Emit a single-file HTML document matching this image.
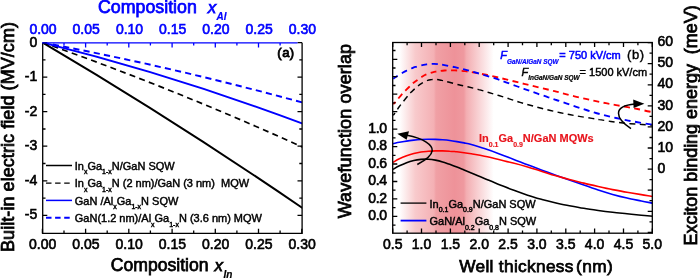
<!DOCTYPE html>
<html><head><meta charset="utf-8"><title>Figure</title>
<style>
html,body{margin:0;padding:0;background:#fff;}
body{width:700px;height:278px;overflow:hidden;font-family:"Liberation Sans",Arial,sans-serif;}
svg{display:block;}
svg text{white-space:pre;}
.tl{stroke-width:0.62px;}
.ti{stroke-width:0.75px;}
.lg{stroke-width:0.45px;}
.lgb{stroke-width:0.55px;}
.ab{stroke-width:0.4px;}
.lgr{stroke-width:0.15px;}
</style></head><body>
<svg width="700" height="278" viewBox="0 0 700 278" font-family="Liberation Sans, Arial, sans-serif">
<defs><linearGradient id="pk" x1="0" x2="1" y1="0" y2="0"><stop offset="0" stop-color="#ffffff"/><stop offset="0.065" stop-color="#ffffff"/><stop offset="0.22" stop-color="#f8cacc"/><stop offset="0.40" stop-color="#f4b0b4"/><stop offset="0.42" stop-color="#f0a0a5"/><stop offset="0.60" stop-color="#ee9299"/><stop offset="0.69" stop-color="#ef999f"/><stop offset="0.715" stop-color="#f3adb1"/><stop offset="0.98" stop-color="#ffffff"/></linearGradient><clipPath id="ca"><rect x="42.7" y="42.8" width="259.4" height="190.6"/></clipPath><clipPath id="cb"><rect x="392.7" y="42.5" width="259.6" height="190.7"/></clipPath></defs>
<rect width="700" height="278" fill="#fff"/>
<g clip-path="url(#ca)" fill="none">
<path d="M42.70,42.60Q174.56,88.97 306.42,148.83" stroke="#000" stroke-width="1.7" stroke-dasharray="6 4.3"/>
<path d="M42.70,42.60Q174.56,67.36 306.42,103.63" stroke="#0000ff" stroke-width="1.9" stroke-dasharray="6.2 4.2"/>
<path d="M42.70,42.60Q174.56,75.37 306.42,125.08" stroke="#0000ff" stroke-width="1.9"/>
<path d="M42.70,42.60Q174.56,120.32 306.42,210.70" stroke="#000" stroke-width="2"/>
</g>
<g stroke="#000" stroke-width="1.3" fill="none">
<path d="M42.7,42.8V233.4H302.1V42.8"/>
<path d="M42.7,42.6h4.6M302.1,42.6h-4.6M42.7,59.9h2.8M302.1,59.9h-2.8M42.7,77.2h4.6M302.1,77.2h-4.6M42.7,94.4h2.8M302.1,94.4h-2.8M42.7,111.7h4.6M302.1,111.7h-4.6M42.7,129.0h2.8M302.1,129.0h-2.8M42.7,146.2h4.6M302.1,146.2h-4.6M42.7,163.5h2.8M302.1,163.5h-2.8M42.7,180.8h4.6M302.1,180.8h-4.6M42.7,198.1h2.8M302.1,198.1h-2.8M42.7,215.3h4.6M302.1,215.3h-4.6M42.4,233.4v-4.6M64.0,233.4v-2.8M85.6,233.4v-4.6M107.2,233.4v-2.8M128.8,233.4v-4.6M150.4,233.4v-2.8M172.1,233.4v-4.6M193.7,233.4v-2.8M215.3,233.4v-4.6M236.9,233.4v-2.8M258.5,233.4v-4.6M280.1,233.4v-2.8M301.8,233.4v-4.6"/>
</g>
<path d="M42.1,42.8H297.5M64.0,42.8v2.8M85.6,42.8v4.6M107.2,42.8v2.8M128.8,42.8v4.6M150.4,42.8v2.8M172.1,42.8v4.6M193.7,42.8v2.8M215.3,42.8v4.6M236.9,42.8v2.8M258.5,42.8v4.6M280.1,42.8v2.8" stroke="#0000ff" stroke-width="1.3" fill="none"/>
<g font-size="14" fill="#000" stroke="#000" class="tl">
<text x="42.7" y="248.9" text-anchor="middle">0.00</text>
<text x="85.9" y="248.9" text-anchor="middle">0.05</text>
<text x="129.2" y="248.9" text-anchor="middle">0.10</text>
<text x="172.4" y="248.9" text-anchor="middle">0.15</text>
<text x="215.6" y="248.9" text-anchor="middle">0.20</text>
<text x="258.9" y="248.9" text-anchor="middle">0.25</text>
<text x="302.1" y="248.9" text-anchor="middle">0.30</text>
<text x="37.2" y="46.7" text-anchor="end">0</text>
<text x="37.2" y="81.2" text-anchor="end">-1</text>
<text x="37.2" y="115.8" text-anchor="end">-2</text>
<text x="37.2" y="150.3" text-anchor="end">-3</text>
<text x="37.2" y="184.9" text-anchor="end">-4</text>
<text x="37.2" y="219.4" text-anchor="end">-5</text>
</g>
<g font-size="14" fill="#0000ff" stroke="#0000ff" class="tl">
<text x="43.0" y="33.8" text-anchor="middle">0.00</text>
<text x="86.2" y="33.8" text-anchor="middle">0.05</text>
<text x="129.5" y="33.8" text-anchor="middle">0.10</text>
<text x="172.7" y="33.8" text-anchor="middle">0.15</text>
<text x="215.9" y="33.8" text-anchor="middle">0.20</text>
<text x="259.2" y="33.8" text-anchor="middle">0.25</text>
<text x="302.4" y="33.8" text-anchor="middle">0.30</text>
</g>
<text class="ti" font-size="17.8" fill="#0000ff" stroke="#0000ff" x="98" y="12.8">Composition</text>
<text class="ti" font-size="17" fill="#0000ff" stroke="#0000ff" font-style="italic" x="207.8" y="12.7">x<tspan font-size="10" font-weight="bold" stroke-width="0.2" dy="7.5" dx="0.3">Al</tspan></text>
<text class="ti" font-size="17.6" fill="#000" stroke="#000" x="110.8" y="270.8">Composition</text>
<text class="ti" font-size="17" fill="#000" stroke="#000" font-style="italic" x="214.6" y="270.8">x<tspan font-size="10" font-weight="bold" stroke-width="0.2" dy="7.5" dx="0.3">In</tspan></text>
<text class="ti" font-size="18" fill="#000" stroke="#000" transform="translate(13.6,252) rotate(-90)" textLength="230">Built-in electric field (MV/cm)</text>
<text class="ab" style="stroke-width:0.8px" font-size="13" fill="#000" stroke="#000" x="277.3" y="57.4" textLength="16.9">(a)</text>
<line x1="46" y1="165.5" x2="72" y2="165.5" stroke="#000" stroke-width="1.5"/>
<line x1="46" y1="183.2" x2="72" y2="183.2" stroke="#000" stroke-width="1.3" stroke-dasharray="5.5 3.6"/>
<line x1="46" y1="200.4" x2="72" y2="200.4" stroke="#0000ff" stroke-width="1.5"/>
<line x1="46" y1="217.8" x2="72" y2="217.8" stroke="#0000ff" stroke-width="2.0" stroke-dasharray="5.5 3.6"/>
<g font-size="11" fill="#000" stroke="#000" class="lg">
<text transform="translate(74.8,169.8) scale(1,0.94)">In<tspan font-size="7" dy="4.9">x</tspan><tspan dy="-4.9">Ga</tspan><tspan font-size="7" dy="4.9">1-x</tspan><tspan dy="-4.9">N/GaN SQW</tspan></text>
<text transform="translate(74.8,187.2) scale(1,0.94)">In<tspan font-size="7" dy="4.9">x</tspan><tspan dy="-4.9">Ga</tspan><tspan font-size="7" dy="4.9">1-x</tspan><tspan dy="-4.9">N (2 nm)/GaN (3 nm)  MQW</tspan></text>
<text transform="translate(74.8,204.7) scale(1,0.94)">GaN /Al<tspan font-size="7" dy="4.9">x</tspan><tspan dy="-4.9">Ga</tspan><tspan font-size="7" dy="4.9">1-x</tspan><tspan dy="-4.9">N SQW</tspan></text>
<text transform="translate(74.8,222.1) scale(1,0.94)">GaN(1.2 nm)/Al<tspan font-size="7" dy="4.9">x</tspan><tspan dy="-4.9">Ga</tspan><tspan font-size="7" dy="4.9">1-x</tspan><tspan dy="-4.9">N (3.6 nm) MQW</tspan></text>
</g>
<rect x="392.7" y="42.5" width="103.0" height="190.7" fill="url(#pk)"/>
<g clip-path="url(#cb)" fill="none" stroke-linejoin="round">
<path d="M393.2,115.3C393.7,114.7 395.0,113.1 396.0,111.7C397.0,110.3 398.1,108.3 399.2,106.8C400.3,105.3 401.0,104.4 402.5,102.5C404.0,100.6 406.7,97.2 408.3,95.3C409.9,93.4 410.7,92.7 412.2,91.2C413.7,89.7 415.9,87.8 417.4,86.5C418.9,85.2 419.6,84.6 421.3,83.6C423.0,82.6 425.9,81.1 427.6,80.4C429.3,79.7 430.0,79.8 431.5,79.6C433.0,79.4 434.9,79.4 436.6,79.5C438.3,79.6 439.9,80.0 441.8,80.4C443.8,80.8 445.5,81.3 448.3,82.0C451.1,82.7 455.5,84.0 458.7,84.8C461.9,85.6 464.4,86.0 467.7,86.8C471.0,87.6 475.1,88.6 478.6,89.6C482.1,90.5 485.3,91.5 488.7,92.5C492.1,93.5 495.2,94.4 498.8,95.5C502.4,96.6 506.4,97.9 510.0,99.1C513.5,100.2 516.7,101.4 520.1,102.4C523.5,103.4 526.8,104.4 530.2,105.3C533.6,106.2 536.9,107.1 540.3,108.0C543.7,108.9 547.0,109.7 550.4,110.5C553.8,111.3 557.0,112.0 560.4,112.7C563.8,113.4 567.1,114.2 570.5,114.8C573.9,115.4 577.0,116.0 580.6,116.6C584.2,117.2 588.9,117.9 592.0,118.4C595.1,118.9 596.5,119.1 599.3,119.6C602.1,120.0 605.5,120.6 608.8,121.1C612.1,121.6 615.3,122.1 618.9,122.5C622.5,122.9 626.5,123.4 630.4,123.7C634.2,124.0 638.2,124.3 642.0,124.5C645.8,124.7 651.2,125.0 653.0,125.1" stroke="#000" stroke-width="1.45" stroke-dasharray="6 4.4" stroke-dashoffset="3.1"/>
<path d="M393.2,104.2C393.8,103.6 395.3,102.2 396.7,100.5C398.1,98.8 400.2,96.1 401.8,94.3C403.4,92.5 404.7,91.4 406.4,89.7C408.1,88.0 410.6,85.4 412.2,83.9C413.8,82.5 414.3,82.2 416.0,81.0C417.7,79.8 420.7,77.6 422.4,76.5C424.1,75.4 424.6,75.1 426.3,74.4C428.0,73.7 431.0,72.8 432.7,72.3C434.4,71.8 434.7,71.8 436.6,71.5C438.6,71.2 441.4,70.7 444.4,70.5C447.4,70.3 451.4,70.3 454.8,70.4C458.2,70.5 461.9,70.8 465.1,71.2C468.4,71.6 471.1,72.0 474.3,72.6C477.5,73.1 480.8,73.8 484.4,74.5C488.0,75.2 492.3,76.2 495.9,77.0C499.5,77.8 502.4,78.5 506.0,79.4C509.6,80.3 513.9,81.3 517.5,82.2C521.1,83.1 524.2,83.9 527.6,84.7C531.0,85.5 534.2,86.3 537.6,87.1C541.0,87.9 544.6,88.8 547.7,89.5C550.8,90.2 553.5,90.9 556.3,91.6C559.1,92.3 561.7,93.0 564.7,93.8C567.7,94.6 571.0,95.4 574.5,96.3C578.0,97.2 582.2,98.1 585.8,98.9C589.4,99.7 592.5,100.5 595.9,101.2C599.3,101.9 602.6,102.6 606.0,103.2C609.4,103.8 612.4,104.4 616.0,105.1C619.6,105.8 624.0,106.4 627.6,107.1C631.2,107.8 634.0,108.3 637.6,109.0C641.2,109.7 646.5,111.0 649.1,111.5C651.7,112.0 652.4,112.2 653.0,112.3" stroke="#ff0000" stroke-width="1.85" stroke-dasharray="6 4.4" stroke-dashoffset="2.6"/>
<path d="M393.2,78.8C393.6,78.5 394.2,78.0 395.8,77.0C397.4,76.0 401.2,73.6 403.0,72.5C404.8,71.4 405.1,71.3 406.8,70.5C408.5,69.7 411.6,68.3 413.3,67.6C415.0,66.9 415.5,67.0 417.2,66.5C418.9,66.0 422.0,65.2 423.7,64.8C425.4,64.4 425.9,64.4 427.6,64.2C429.3,64.0 432.1,63.9 434.0,63.9C435.9,63.9 437.5,64.1 439.2,64.3C440.9,64.5 441.8,64.6 444.4,65.1C447.0,65.6 451.4,66.4 454.8,67.2C458.2,68.0 461.9,68.9 465.1,69.7C468.4,70.5 471.1,71.3 474.3,72.2C477.5,73.1 480.8,74.0 484.4,75.1C488.0,76.2 492.3,77.5 495.9,78.7C499.5,79.9 502.4,81.0 506.0,82.3C509.6,83.6 513.9,85.2 517.5,86.5C521.1,87.8 524.2,88.9 527.6,90.1C531.0,91.3 534.2,92.5 537.6,93.7C541.0,94.9 544.6,96.0 547.7,97.1C550.8,98.1 553.2,99.0 556.3,100.0C559.4,101.0 562.9,102.3 566.2,103.4C569.5,104.5 572.9,105.7 576.3,106.8C579.6,107.9 583.0,109.0 586.3,110.0C589.6,111.0 592.6,112.1 595.9,113.0C599.2,113.9 602.6,114.8 606.0,115.6C609.4,116.4 612.6,117.2 616.0,118.0C619.4,118.8 622.7,119.5 626.1,120.2C629.5,120.9 632.4,121.3 636.2,122.0C640.0,122.7 646.3,123.7 649.1,124.1C651.9,124.5 652.4,124.5 653.0,124.6" stroke="#0000ff" stroke-width="1.85" stroke-dasharray="6.1 4.5" stroke-dashoffset="0.5"/>
<path d="M392.9,169.4C394.0,168.8 397.1,166.9 399.4,165.8C401.7,164.7 404.2,163.6 406.6,162.7C409.0,161.8 411.4,161.1 413.8,160.5C416.2,159.9 418.6,159.6 421.0,159.4C423.4,159.2 425.8,159.1 428.2,159.2C430.6,159.3 433.0,159.6 435.4,160.1C437.8,160.6 440.2,161.2 442.6,161.9C445.0,162.6 447.3,163.5 449.7,164.3C452.1,165.2 454.5,166.1 456.9,167.0C459.3,167.9 461.7,169.0 464.1,170.0C466.5,171.0 468.9,172.0 471.3,173.0C473.7,174.0 476.3,175.1 478.5,176.0C480.7,176.9 481.0,177.0 484.4,178.4C487.8,179.8 494.0,182.5 498.8,184.4C503.6,186.3 508.4,188.3 513.2,190.1C518.0,191.9 522.8,193.6 527.6,195.2C532.4,196.8 537.4,198.2 542.0,199.5C546.6,200.8 550.4,201.7 555.0,202.7C559.6,203.7 564.6,204.8 569.4,205.7C574.2,206.6 579.0,207.5 583.8,208.3C588.6,209.1 593.4,209.8 598.2,210.5C603.0,211.2 607.8,211.8 612.6,212.3C617.4,212.9 622.2,213.3 627.0,213.8C631.8,214.3 637.0,214.8 641.3,215.2C645.6,215.6 651.0,216.0 653.0,216.2" stroke="#000" stroke-width="1.6"/>
<path d="M392.9,143.7C394.0,143.5 397.1,142.7 399.4,142.3C401.7,141.9 404.2,141.5 406.6,141.1C409.0,140.7 411.4,140.4 413.8,140.1C416.2,139.8 418.6,139.6 421.0,139.5C423.4,139.4 425.8,139.3 428.2,139.3C430.6,139.3 433.0,139.3 435.4,139.4C437.8,139.5 440.2,139.6 442.6,139.8C445.0,140.0 447.3,140.2 449.7,140.5C452.1,140.8 454.5,141.2 456.9,141.6C459.3,142.0 461.7,142.4 464.1,142.9C466.5,143.4 467.9,143.6 471.3,144.5C474.7,145.4 479.8,147.1 484.4,148.6C489.0,150.1 494.0,151.9 498.8,153.7C503.6,155.5 508.4,157.3 513.2,159.2C518.0,161.0 522.8,163.0 527.6,164.8C532.4,166.6 537.4,168.5 542.0,170.2C546.6,171.9 550.4,173.2 555.0,174.9C559.6,176.6 564.6,178.4 569.4,180.1C574.2,181.8 579.0,183.4 583.8,185.1C588.6,186.8 593.4,188.5 598.2,190.1C603.0,191.7 607.8,193.1 612.6,194.4C617.4,195.7 622.2,196.9 627.0,198.0C631.8,199.1 637.0,200.1 641.3,201.0C645.6,201.9 651.0,202.8 653.0,203.2" stroke="#0000ff" stroke-width="1.6"/>
<path d="M392.9,162.4C394.0,161.8 397.1,159.9 399.4,158.8C401.7,157.7 404.2,156.7 406.6,155.8C409.0,154.9 411.4,154.1 413.8,153.5C416.2,152.9 418.6,152.4 421.0,152.0C423.4,151.6 425.8,151.5 428.2,151.3C430.6,151.1 433.0,151.0 435.4,150.9C437.8,150.8 440.2,150.9 442.6,150.9C445.0,150.9 447.3,151.0 449.7,151.2C452.1,151.3 454.5,151.6 456.9,151.8C459.3,152.1 461.7,152.4 464.1,152.7C466.5,153.0 467.9,153.2 471.3,153.8C474.7,154.4 479.8,155.2 484.4,156.2C489.0,157.1 494.0,158.3 498.8,159.5C503.6,160.7 508.4,161.8 513.2,163.1C518.0,164.3 522.8,165.6 527.6,167.0C532.4,168.4 537.4,170.0 542.0,171.4C546.6,172.8 550.4,174.2 555.0,175.5C559.6,176.8 564.6,178.2 569.4,179.5C574.2,180.8 579.0,181.9 583.8,183.1C588.6,184.3 593.4,185.4 598.2,186.5C603.0,187.6 607.8,188.7 612.6,189.6C617.4,190.5 622.2,191.4 627.0,192.2C631.8,193.0 637.0,193.9 641.3,194.6C645.6,195.3 651.0,196.3 653.0,196.6" stroke="#ff0000" stroke-width="1.6"/>
</g>
<path d="M631,128.6C625,124.6 618.4,118.5 618.5,113.2C618.6,108 624.5,105 635,104.1" fill="none" stroke="#000" stroke-width="1.5"/>
<path d="M644.4,103.8L633.2,99.6L633.6,108.1z" fill="#000"/>
<path d="M417.3,164.5C424,161 431.5,156.5 432.2,150.6C432.8,145 424,138.5 407,135.3" fill="none" stroke="#000" stroke-width="1.5"/>
<path d="M397.3,133.8L409,131.2L406.6,139.8z" fill="#000"/>
<g stroke="#000" stroke-width="1.3" fill="none">
<rect x="392.7" y="42.5" width="259.6" height="190.7"/>
<path d="M392.7,233.2v-4.6M392.7,42.5v4.6M407.1,233.2v-2.8M407.1,42.5v2.8M421.5,233.2v-4.6M421.5,42.5v4.6M436.0,233.2v-2.8M436.0,42.5v2.8M450.4,233.2v-4.6M450.4,42.5v4.6M464.8,233.2v-2.8M464.8,42.5v2.8M479.2,233.2v-4.6M479.2,42.5v4.6M493.7,233.2v-2.8M493.7,42.5v2.8M508.1,233.2v-4.6M508.1,42.5v4.6M522.5,233.2v-2.8M522.5,42.5v2.8M536.9,233.2v-4.6M536.9,42.5v4.6M551.3,233.2v-2.8M551.3,42.5v2.8M565.8,233.2v-4.6M565.8,42.5v4.6M580.2,233.2v-2.8M580.2,42.5v2.8M594.6,233.2v-4.6M594.6,42.5v4.6M609.0,233.2v-2.8M609.0,42.5v2.8M623.5,233.2v-4.6M623.5,42.5v4.6M637.9,233.2v-2.8M637.9,42.5v2.8M652.3,233.2v-4.6M652.3,42.5v4.6M392.7,225.1h2.8M392.7,216.4h4.6M392.7,207.7h2.8M392.7,198.9h4.6M392.7,190.2h2.8M392.7,181.5h4.6M392.7,172.8h2.8M392.7,164.0h4.6M392.7,155.3h2.8M392.7,146.6h4.6M392.7,137.8h2.8M392.7,129.1h4.6M392.7,120.4h2.8M392.7,111.6h4.6M392.7,102.9h2.8M392.7,94.2h4.6M392.7,85.5h2.8M392.7,76.7h4.6M392.7,68.0h2.8M392.7,59.3h4.6M392.7,50.5h2.8M652.3,232.3h-4.6M652.3,221.8h-2.8M652.3,211.3h-4.6M652.3,200.7h-2.8M652.3,190.2h-4.6M652.3,179.6h-2.8M652.3,169.1h-4.6M652.3,158.6h-2.8M652.3,148.0h-4.6M652.3,137.5h-2.8M652.3,126.9h-4.6M652.3,116.4h-2.8M652.3,105.9h-4.6M652.3,95.3h-2.8M652.3,84.8h-4.6M652.3,74.2h-2.8M652.3,63.7h-4.6M652.3,53.2h-2.8M652.3,42.6h-4.6"/>
</g>
<g font-size="14" fill="#000" stroke="#000" class="tl">
<text x="392.7" y="248.9" text-anchor="middle">0.5</text>
<text x="421.5" y="248.9" text-anchor="middle">1.0</text>
<text x="450.4" y="248.9" text-anchor="middle">1.5</text>
<text x="479.2" y="248.9" text-anchor="middle">2.0</text>
<text x="508.1" y="248.9" text-anchor="middle">2.5</text>
<text x="536.9" y="248.9" text-anchor="middle">3.0</text>
<text x="565.8" y="248.9" text-anchor="middle">3.5</text>
<text x="594.6" y="248.9" text-anchor="middle">4.0</text>
<text x="623.5" y="248.9" text-anchor="middle">4.5</text>
<text x="652.3" y="248.9" text-anchor="middle">5.0</text>
<text x="387" y="220.0" text-anchor="end" textLength="18.7">0.0</text>
<text x="387" y="202.5" text-anchor="end" textLength="18.7">0.2</text>
<text x="387" y="185.1" text-anchor="end" textLength="18.7">0.4</text>
<text x="387" y="167.6" text-anchor="end" textLength="18.7">0.6</text>
<text x="387" y="150.2" text-anchor="end" textLength="18.7">0.8</text>
<text x="387" y="132.7" text-anchor="end" textLength="18.7">1.0</text>
<text x="657.4" y="172.7">0</text>
<text x="657.4" y="151.6">10</text>
<text x="657.4" y="130.5">20</text>
<text x="657.4" y="109.5">30</text>
<text x="657.4" y="88.4">40</text>
<text x="657.4" y="67.3">50</text>
<text x="657.4" y="46.2">60</text>
</g>
<text class="ti" font-size="17.3" fill="#000" stroke="#000" x="459.2" y="271.5" textLength="114.2">Well thickness</text>
<text class="ti" font-size="17.3" fill="#000" stroke="#000" x="576" y="271.5" textLength="36.8">(nm)</text>
<text class="ti" font-size="18" fill="#000" stroke="#000" transform="translate(350.6,218.3) rotate(-90)" textLength="174.4">Wavefunction overlap</text>
<text class="ti" font-size="18" fill="#000" stroke="#000" transform="translate(696.5,245.5) rotate(-90)" textLength="240.2">Exciton binding energy  (meV)</text>
<text class="ab" font-size="13" fill="#000" stroke="#000" x="627.1" y="59" textLength="16.9">(b)</text>
<text class="lgb" font-size="11" fill="#0000ff" stroke="#0000ff" transform="translate(500.3,59.1) scale(1,0.94)"><tspan font-style="italic">F</tspan><tspan font-size="7.3" font-style="italic" font-weight="bold" stroke-width="0.2" dy="4.7" textLength="51.5" lengthAdjust="spacingAndGlyphs">GaN/AlGaN SQW</tspan><tspan dy="-4.7" dx="0.8">= 750 kV/cm</tspan></text>
<text class="lg" font-size="11" fill="#000" stroke="#000" transform="translate(521.5,75.5) scale(1,0.94)"><tspan font-style="italic">F</tspan><tspan font-size="7.3" font-style="italic" font-weight="bold" stroke-width="0.2" dy="4.9" textLength="51.5" lengthAdjust="spacingAndGlyphs">InGaN/GaN SQW</tspan><tspan dy="-4.9" dx="-0.1">= 1500 kV/cm</tspan></text>
<text class="lgr" font-size="11" fill="#e8141c" stroke="#e8141c" font-weight="bold" transform="translate(479.0,142.2) scale(1,0.94)">In<tspan font-size="7" dy="4.9">0.1</tspan><tspan dy="-4.9">Ga</tspan><tspan font-size="7" dy="4.9">0.9</tspan><tspan dy="-4.9">N/GaN MQWs</tspan></text>
<line x1="400.6" y1="203.1" x2="426.4" y2="203.1" stroke="#000" stroke-width="1.3"/>
<line x1="400.6" y1="220.6" x2="426.4" y2="220.6" stroke="#0000ff" stroke-width="1.8"/>
<g font-size="11" fill="#000" stroke="#000" class="lg">
<text transform="translate(429.5,207.7) scale(1,0.94)">In<tspan font-size="7" dy="4.9">0.1</tspan><tspan dy="-4.9">Ga</tspan><tspan font-size="7" dy="4.9">0.9</tspan><tspan dy="-4.9">N/GaN SQW</tspan></text>
<text transform="translate(429.5,224.9) scale(1,0.94)">GaN/Al<tspan font-size="7" dy="4.9">0.2</tspan><tspan dy="-4.9">Ga</tspan><tspan font-size="7" dy="4.9">0.8</tspan><tspan dy="-4.9">N SQW</tspan></text>
</g>
</svg>
</body></html>
